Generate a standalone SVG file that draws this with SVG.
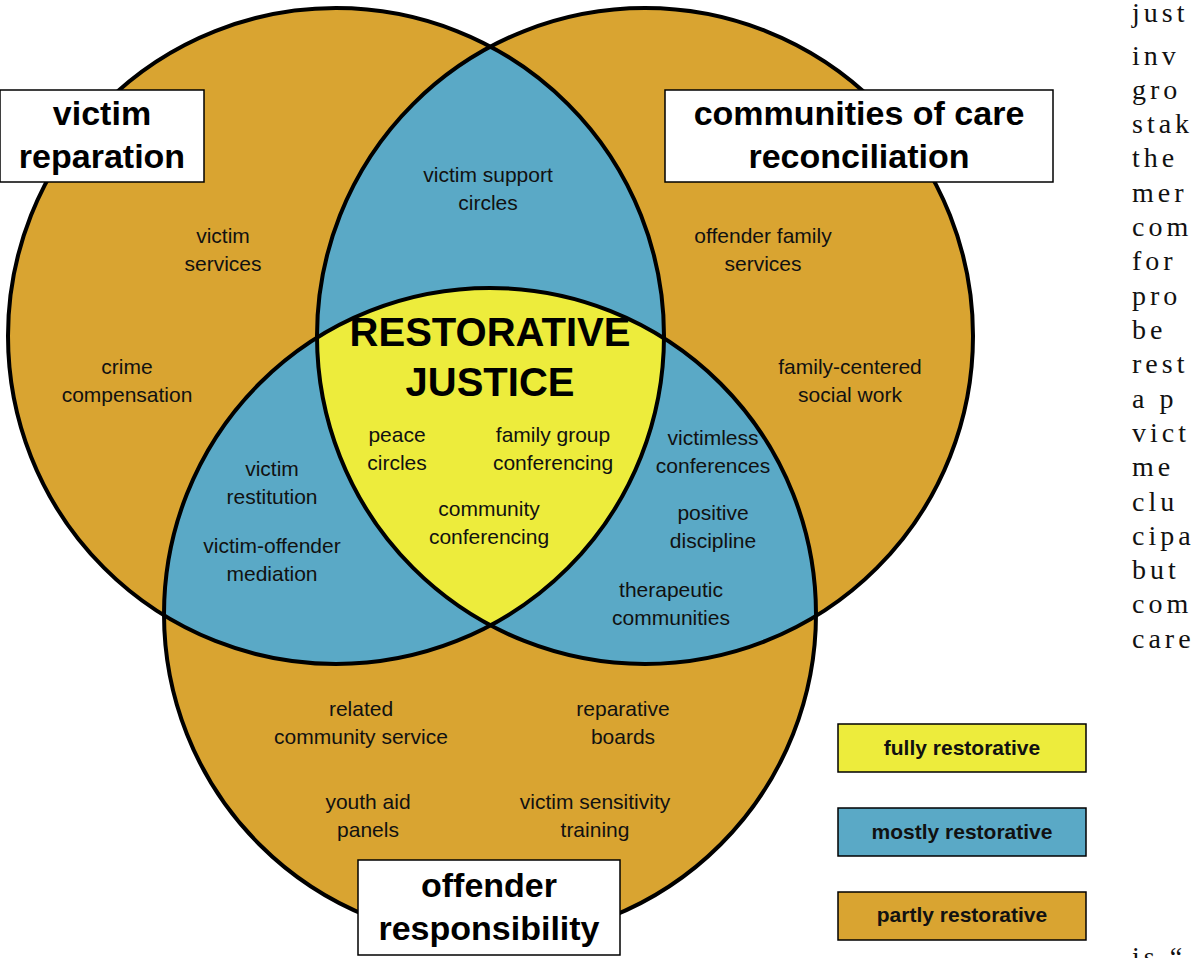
<svg xmlns="http://www.w3.org/2000/svg" width="1195" height="958" viewBox="0 0 1195 958">
<style>
.t{font-family:"Liberation Sans",Arial,sans-serif;font-size:21px;text-anchor:middle;fill:#111}
.h{font-family:"Liberation Sans",Arial,sans-serif;font-size:34px;font-weight:bold;text-anchor:middle;fill:#000}
.lg{font-family:"Liberation Sans",Arial,sans-serif;font-size:21px;font-weight:bold;text-anchor:middle;fill:#111}
.s{font-family:"Liberation Serif","Times New Roman",serif;font-size:28px;letter-spacing:4px;fill:#111}
.box{fill:#fff;stroke:#000;stroke-width:1.5}
.o{fill:#D9A431}.b{fill:#5AA9C6}.y{fill:#EDEC3C}
.ln{fill:none;stroke:#000;stroke-width:4}
</style>
<defs>
<clipPath id="cA"><circle cx="336" cy="336" r="328"/></clipPath>
<clipPath id="cB"><circle cx="645" cy="336" r="328"/></clipPath>
</defs>
<rect width="1195" height="958" fill="#fff"/>
<g id="circles">
<circle class="o" cx="336" cy="336" r="328"/>
<circle class="o" cx="645" cy="336" r="328"/>
<circle class="o" cx="490" cy="614" r="326"/>
<g clip-path="url(#cA)"><circle class="b" cx="645" cy="336" r="328"/><circle class="b" cx="490" cy="614" r="326"/></g>
<g clip-path="url(#cB)"><circle class="b" cx="490" cy="614" r="326"/></g>
<g clip-path="url(#cA)"><g clip-path="url(#cB)"><circle class="y" cx="490" cy="614" r="326"/></g></g>
<circle class="ln" cx="336" cy="336" r="328"/>
<circle class="ln" cx="645" cy="336" r="328"/>
<circle class="ln" cx="490" cy="614" r="326"/>
</g>
<g id="center">
<text class="h" style="font-size:40px" x="490" y="346">RESTORATIVE</text>
<text class="h" style="font-size:40px" x="490" y="396">JUSTICE</text>
</g>
<g id="labels">
<text class="t" x="488" y="182">victim support</text><text class="t" x="488" y="210">circles</text>
<text class="t" x="223" y="243">victim</text><text class="t" x="223" y="271">services</text>
<text class="t" x="763" y="243">offender family</text><text class="t" x="763" y="271">services</text>
<text class="t" x="127" y="374">crime</text><text class="t" x="127" y="402">compensation</text>
<text class="t" x="850" y="374">family-centered</text><text class="t" x="850" y="402">social work</text>
<text class="t" x="397" y="442">peace</text><text class="t" x="397" y="470">circles</text>
<text class="t" x="553" y="442">family group</text><text class="t" x="553" y="470">conferencing</text>
<text class="t" x="713" y="445">victimless</text><text class="t" x="713" y="473">conferences</text>
<text class="t" x="272" y="476">victim</text><text class="t" x="272" y="504">restitution</text>
<text class="t" x="489" y="516">community</text><text class="t" x="489" y="544">conferencing</text>
<text class="t" x="713" y="520">positive</text><text class="t" x="713" y="548">discipline</text>
<text class="t" x="272" y="553">victim-offender</text><text class="t" x="272" y="581">mediation</text>
<text class="t" x="671" y="597">therapeutic</text><text class="t" x="671" y="625">communities</text>
<text class="t" x="361" y="716">related</text><text class="t" x="361" y="744">community service</text>
<text class="t" x="623" y="716">reparative</text><text class="t" x="623" y="744">boards</text>
<text class="t" x="368" y="809">youth aid</text><text class="t" x="368" y="837">panels</text>
<text class="t" x="595" y="809">victim sensitivity</text><text class="t" x="595" y="837">training</text>
</g>
<g id="title-victim"><rect class="box" x="0" y="90" width="204" height="92"/>
<text class="h" x="102" y="125">victim</text><text class="h" x="102" y="168">reparation</text></g>
<g id="title-communities"><rect class="box" x="665" y="90" width="388" height="92"/>
<text class="h" x="859" y="125">communities of care</text><text class="h" x="859" y="168">reconciliation</text></g>
<g id="title-offender"><rect class="box" x="358" y="860" width="262" height="95"/>
<text class="h" x="489" y="897">offender</text><text class="h" x="489" y="940">responsibility</text></g>
<g id="legend-full"><rect x="838" y="724" width="248" height="48" class="y" stroke="#000" stroke-width="1.5"/><text class="lg" x="962" y="755">fully restorative</text></g>
<g id="legend-mostly"><rect x="838" y="808" width="248" height="48" class="b" stroke="#000" stroke-width="1.5"/><text class="lg" x="962" y="839">mostly restorative</text></g>
<g id="legend-partly"><rect x="838" y="892" width="248" height="48" class="o" stroke="#000" stroke-width="1.5"/><text class="lg" x="962" y="922">partly restorative</text></g>
<g id="side-text">
<text class="s" x="1132" y="22">just</text>
<text class="s" x="1132" y="65">inv</text>
<text class="s" x="1132" y="99">gro</text>
<text class="s" x="1132" y="133">stak</text>
<text class="s" x="1132" y="167">the</text>
<text class="s" x="1132" y="202">mer</text>
<text class="s" x="1132" y="236">com</text>
<text class="s" x="1132" y="270">for</text>
<text class="s" x="1132" y="305">pro</text>
<text class="s" x="1132" y="339">be</text>
<text class="s" x="1132" y="373">rest</text>
<text class="s" x="1132" y="408">a p</text>
<text class="s" x="1132" y="442">vict</text>
<text class="s" x="1132" y="476">me</text>
<text class="s" x="1132" y="511">clu</text>
<text class="s" x="1132" y="545">cipa</text>
<text class="s" x="1132" y="579">but</text>
<text class="s" x="1132" y="613">com</text>
<text class="s" x="1132" y="648">care</text>
<text class="s" x="1132" y="966">is “</text>
</g>
</svg>
